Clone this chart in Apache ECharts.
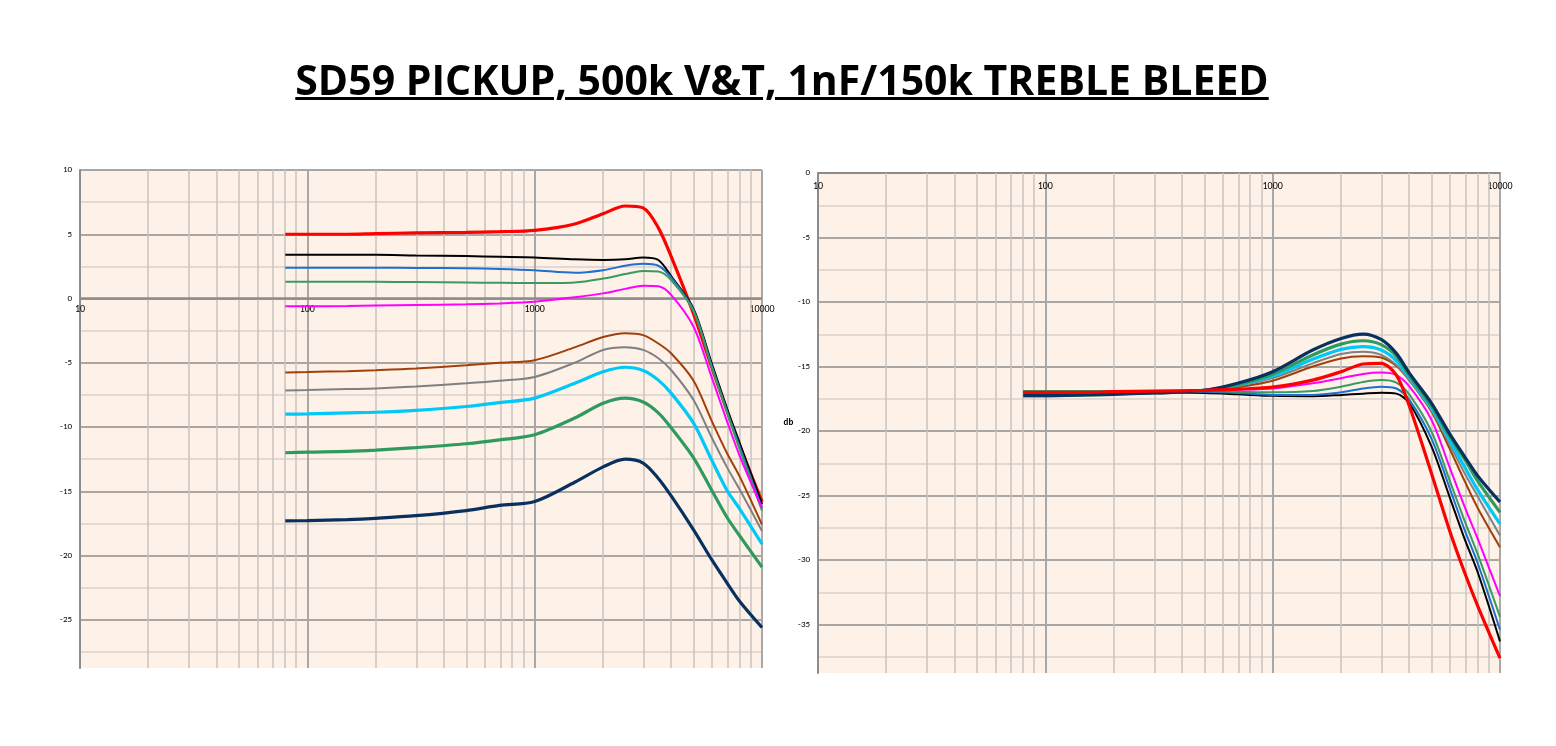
<!DOCTYPE html>
<html>
<head>
<meta charset="utf-8">
<script src="https://cdn.jsdelivr.net/npm/echarts@6/dist/echarts.min.js"></script>
<style>
  body { margin: 0; background: #fff; width: 1556px; height: 746px; overflow: hidden; position: relative; }
  #title { position: absolute; left: 0; width: 1564px; top: 51px; text-align: center;
    font: bold 41px "Open Sans", sans-serif; text-decoration: underline; text-decoration-thickness: 3px; color: #000; }
  #chart { position: absolute; left: 0; top: 0; width: 1556px; height: 746px; }
</style>
</head>
<body>
<div id="chart"></div>
<div id="title">SD59 PICKUP, 500k V&amp;T, 1nF/150k TREBLE BLEED</div>
<script>
// frequencies (Hz) shared by every curve
const freqs = [80, 100, 150, 200, 300, 500, 700, 1000, 1500, 2000, 2500, 3000, 3500, 4000, 5000, 6000, 7000, 8000, 10000];
// minor vertical grid frequencies
const gridFreqs = [20, 30, 40, 50, 60, 70, 80, 90, 200, 300, 400, 500, 600, 700, 800, 900, 2000, 3000, 4000, 5000, 6000, 7000, 8000, 9000];

const colors = {
  red: '#ff0000', black: '#000000', blue: '#1f6fd0', green1: '#3a9a60', magenta: '#ff00ff',
  brown: '#a0400a', gray: '#808080', cyan: '#00c8f8', green2: '#2e9a5e', navy: '#0a3060'
};
const thick = ['red', 'cyan', 'green2', 'navy'];

// left chart (dB)
const leftRed     = [5, 5, 5, 5.05, 5.1, 5.15, 5.2, 5.3, 5.8, 6.6, 7.2, 7.05, 5.5, 3.2, -1.2, -5.3, -8.7, -11.5, -15.8];
const leftBlack   = [3.4, 3.4, 3.4, 3.4, 3.35, 3.3, 3.25, 3.2, 3.05, 3.0, 3.05, 3.2, 3.0, 1.7, -0.8, -5.0, -8.5, -11.3, -16.0];
const leftBlue    = [2.4, 2.4, 2.4, 2.4, 2.38, 2.35, 2.3, 2.2, 2.0, 2.2, 2.55, 2.7, 2.55, 1.6, -0.9, -5.2, -8.7, -11.6, -16.3];
const leftGreen1  = [1.3, 1.3, 1.3, 1.3, 1.28, 1.25, 1.22, 1.2, 1.25, 1.55, 1.9, 2.15, 2.1, 1.4, -1.0, -5.3, -8.8, -11.8, -16.5];
const leftMagenta = [-0.6, -0.6, -0.58, -0.55, -0.5, -0.45, -0.38, -0.25, 0.1, 0.4, 0.75, 1.0, 0.95, 0.25, -2.2, -6.1, -9.5, -12.3, -16.3];
const leftBrown   = [-5.75, -5.72, -5.65, -5.58, -5.45, -5.2, -5.0, -4.8, -3.8, -3.0, -2.7, -2.85, -3.5, -4.3, -6.4, -9.5, -12.0, -13.9, -17.6];
const leftGray    = [-7.15, -7.12, -7.05, -7.0, -6.85, -6.6, -6.4, -6.1, -5.0, -4.0, -3.8, -4.0, -4.65, -5.6, -7.9, -10.8, -13.1, -14.9, -18.1];
const leftCyan    = [-9.0, -8.98, -8.9, -8.85, -8.7, -8.4, -8.1, -7.75, -6.6, -5.7, -5.35, -5.6, -6.35, -7.4, -9.7, -12.55, -14.9, -16.4, -19.1];
const leftGreen2  = [-12.0, -11.95, -11.9, -11.8, -11.6, -11.3, -11.0, -10.6, -9.3, -8.15, -7.75, -8.05, -8.9, -10.1, -12.4, -14.9, -17.0, -18.5, -20.9];
const leftNavy    = [-17.3, -17.28, -17.2, -17.1, -16.9, -16.5, -16.1, -15.8, -14.3, -13.1, -12.5, -12.8, -14.0, -15.4, -18.0, -20.3, -22.1, -23.6, -25.6];

// right chart (dB)
const rightNavy    = [-17.25, -17.25, -17.2, -17.15, -17.05, -16.85, -16.3, -15.4, -13.72, -12.82, -12.48, -12.9, -13.98, -15.53, -17.85, -20.2, -22.0, -23.5, -25.5];
const rightGreen2  = [-17.25, -17.25, -17.2, -17.15, -17.05, -16.85, -16.4, -15.6, -14.1, -13.26, -13.0, -13.3, -14.2, -15.74, -18.07, -20.4, -22.2, -23.9, -26.3];
const rightCyan    = [-17.2, -17.2, -17.15, -17.1, -17.0, -16.85, -16.45, -15.74, -14.44, -13.67, -13.46, -13.72, -14.55, -15.9, -18.25, -20.7, -22.8, -24.6, -27.2];
const rightGray    = [-17.15, -17.15, -17.1, -17.05, -17.0, -16.85, -16.5, -15.9, -14.75, -14.03, -13.85, -14.1, -14.88, -16.05, -18.4, -21.0, -23.3, -25.1, -28.1];
const rightBrown   = [-17.1, -17.1, -17.05, -17.0, -16.95, -16.85, -16.6, -16.1, -15.0, -14.37, -14.2, -14.3, -14.96, -16.1, -18.5, -21.35, -23.9, -26.0, -29.0];
const rightRed     = [-17.0, -17.0, -17.0, -16.95, -16.9, -16.85, -16.75, -16.6, -16.05, -15.4, -14.8, -14.75, -15.66, -18.1, -23.3, -27.7, -31.0, -33.6, -37.6];
const rightMagenta = [-17.0, -17.0, -17.0, -16.95, -16.9, -16.85, -16.8, -16.7, -16.3, -15.9, -15.57, -15.47, -15.66, -16.56, -19.14, -22.8, -25.9, -28.4, -32.8];
const rightGreen1  = [-16.9, -16.9, -16.9, -16.9, -16.9, -16.9, -16.95, -17.0, -16.9, -16.56, -16.2, -16.05, -16.25, -17.2, -20.05, -23.8, -27.0, -29.6, -34.4];
const rightBlue    = [-16.9, -16.9, -16.9, -16.9, -16.9, -16.95, -17.05, -17.2, -17.2, -17.0, -16.7, -16.56, -16.7, -17.6, -20.6, -24.4, -27.7, -30.3, -35.4];
const rightBlack   = [-17.0, -17.0, -17.0, -17.0, -17.0, -17.05, -17.15, -17.27, -17.3, -17.2, -17.1, -17.03, -17.1, -17.86, -21.2, -25.1, -28.4, -31.0, -36.3];

const leftSets = { red: leftRed, black: leftBlack, blue: leftBlue, green1: leftGreen1, magenta: leftMagenta,
  brown: leftBrown, gray: leftGray, cyan: leftCyan, green2: leftGreen2, navy: leftNavy };
const rightSets = { black: rightBlack, blue: rightBlue, green1: rightGreen1, magenta: rightMagenta, brown: rightBrown,
  gray: rightGray, cyan: rightCyan, green2: rightGreen2, navy: rightNavy, red: rightRed };

const font = 'Calibri, Carlito, "Open Sans", sans-serif';
// split line colours cycle: quarter-steps transparent, half-steps minor, 5 dB major
const hColors = ['rgba(0,0,0,0)', '#d8d0cc', 'rgba(0,0,0,0)', '#8c8c8c'];

function xAxisFor(idx, top) {
  return {
    type: 'value', gridIndex: idx, min: 1, max: 4, interval: 1,
    position: top ? 'top' : 'bottom',
    axisLine: { show: top, onZero: false, lineStyle: { color: '#8c8c8c', width: 2 } },
    axisTick: { show: false },
    splitLine: { show: true, lineStyle: { color: '#a8a8a8', width: 2 } },
    // left chart: labels sit under the 0 dB line
    axisLabel: { inside: top, fontSize: 10, fontFamily: font, color: '#000', margin: top ? 8 : -364,
      formatter: v => String(Math.round(Math.pow(10, v))) }
  };
}
function yAxisFor(idx, min, max, name) {
  return {
    type: 'value', gridIndex: idx, min: min, max: max, interval: 1.25,
    name: name, nameLocation: 'middle', nameGap: 24, nameRotate: 0,
    nameTextStyle: { fontSize: 9, fontWeight: 'bold', fontFamily: font, color: '#000' },
    axisLine: { show: true, lineStyle: { color: '#8c8c8c', width: 2 } },
    axisTick: { show: false },
    splitLine: { show: true, lineStyle: { color: hColors, width: 1.5 } },
    axisLabel: { fontSize: 9, fontFamily: font, color: '#000', margin: 8,
      formatter: v => (Math.abs(v % 5) < 1e-6 ? String(v) : '') }
  };
}

const series = [];
[0, 1].forEach(g => {
  series.push({
    type: 'line', xAxisIndex: g, yAxisIndex: g, data: [], z: 1, silent: true,
    markLine: { silent: true, symbol: 'none', label: { show: false },
      lineStyle: { color: '#c8c2be', width: 1.5, type: 'solid' },
      data: gridFreqs.map(f => ({ xAxis: Math.log10(f) })) }
  });
});
// stronger 0 dB line on the left chart
series.push({
  type: 'line', xAxisIndex: 0, yAxisIndex: 0, data: [], z: 2, silent: true,
  markLine: { silent: true, symbol: 'none', label: { show: false },
    lineStyle: { color: '#8c8c8c', width: 2.5, type: 'solid' }, data: [{ yAxis: 0 }] }
});
function addSets(sets, g) {
  Object.keys(sets).forEach(k => {
    series.push({
      type: 'line', xAxisIndex: g, yAxisIndex: g, smooth: 0.3, showSymbol: false, z: 5,
      lineStyle: { color: colors[k], width: thick.includes(k) ? 3.2 : 2 },
      data: freqs.map((f, i) => [Math.log10(f), sets[k][i]])
    });
  });
}
addSets(leftSets, 0);
addSets(rightSets, 1);

const chart = echarts.init(document.getElementById('chart'));
chart.setOption({
  animation: false,
  grid: [
    { left: 80, top: 170, width: 682, height: 498, show: true, backgroundColor: '#fdf1e8', borderWidth: 0 },
    { left: 818, top: 173, width: 682, height: 500, show: true, backgroundColor: '#fdf1e8', borderWidth: 0 }
  ],
  xAxis: [xAxisFor(0, false), xAxisFor(1, true)],
  yAxis: [yAxisFor(0, -28.75, 10, ''), yAxisFor(1, -38.75, 0, 'db')],
  series: series
});
</script>
</body>
</html>
